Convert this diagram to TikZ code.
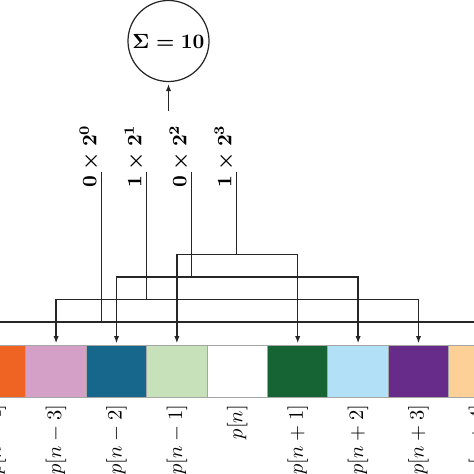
\documentclass[tikz,border=0pt]{standalone}
\usetikzlibrary{arrows.meta}
\definecolor{corange}{HTML}{F06423}
\definecolor{cpink}{HTML}{D4A0C8}
\definecolor{cteal}{HTML}{17678C}
\definecolor{clgreen}{HTML}{C7E2BB}
\definecolor{cdgreen}{HTML}{166434}
\definecolor{clblue}{HTML}{B2E0F6}
\definecolor{cpurple}{HTML}{672B8A}
\definecolor{clorange}{HTML}{FDD098}
\begin{document}
\begin{tikzpicture}[x=0.4875pt,y=-0.4875pt,
  cellbox/.style={draw=gray!70, line width=0.5pt, minimum width=29.45pt, minimum height=25.7pt, inner sep=0pt, outer sep=0pt},
  conn/.style={draw=black!85, line width=0.6pt},
  arr/.style={conn, shorten >=0.9pt, -{Latex[length=3.5pt,width=2.6pt]}},
  bitlabel/.style={rotate=90, anchor=south west, inner sep=1pt, font=\boldmath},
  cellname/.style={rotate=90, anchor=east}]
\useasboundingbox (0,0) rectangle (474,474);
\clip (0,0) rectangle (474,474);
% cells
\node[cellbox, fill=corange]  (cm4) at (-4.3,371.4) {};
\node[cellbox, fill=cpink]    (cm3) at (56.1,371.4) {};
\node[cellbox, fill=cteal]    (cm2) at (116.5,371.4) {};
\node[cellbox, fill=clgreen]  (cm1) at (176.9,371.4) {};
\node[cellbox, fill=white]    (c0)  at (237.3,371.4) {};
\node[cellbox, fill=cdgreen]  (cp1) at (297.7,371.4) {};
\node[cellbox, fill=clblue]   (cp2) at (358.1,371.4) {};
\node[cellbox, fill=cpurple]  (cp3) at (418.5,371.4) {};
\node[cellbox, fill=clorange] (cp4) at (478.9,371.4) {};
% cell labels
\node[cellname] (lm4) at (cm4.south) {$p[n-4]$};
\node[cellname] (lm3) at (cm3.south) {$p[n-3]$};
\node[cellname] (lm2) at (cm2.south) {$p[n-2]$};
\node[cellname] (lm1) at (cm1.south) {$p[n-1]$};
\node[cellname] (l0)  at (c0.south)  {$p[n]$};
\node[cellname] (lp1) at (cp1.south) {$p[n+1]$};
\node[cellname] (lp2) at (cp2.south) {$p[n+2]$};
\node[cellname] (lp3) at (cp3.south) {$p[n+3]$};
\node[cellname] (lp4) at (cp4.south) {$p[n+4]$};
% sum
\node[circle, draw=black!85, line width=0.6pt, minimum size=39.5pt, inner sep=0pt, font=\boldmath] (sum) at (168.5,41) {$\Sigma=10$};
\coordinate (s) at (168.5,111);
\draw[arr] (s) -- (sum.south);
% bit labels
\node[bitlabel] (b0) at (101.5,190) {$0\times2^0$};
\node[bitlabel] (b1) at (146.5,190) {$1\times2^1$};
\node[bitlabel] (b2) at (191.5,190) {$0\times2^2$};
\node[bitlabel] (b3) at (236.5,190) {$1\times2^3$};
\coordinate (t0) at (101.5,172);
\coordinate (t1) at (146.5,172);
\coordinate (t2) at (191.5,172);
\coordinate (t3) at (236.5,172);
\coordinate (j0) at (101.5,322);
\coordinate (j1) at (146.5,299.3);
\coordinate (j2) at (191.5,277);
\coordinate (j3) at (236.5,254.3);
\draw[conn] (t0) -- (j0);
\draw[conn] (t1) -- (j1);
\draw[conn] (t2) -- (j2);
\draw[conn] (t3) -- (j3);
\draw[arr] (j0) -| (cm4.north);
\draw[arr] (j0) -| (cp4.north);
\draw[arr] (j1) -| (cm3.north);
\draw[arr] (j1) -| (cp3.north);
\draw[arr] (j2) -| (cm2.north);
\draw[arr] (j2) -| (cp2.north);
\draw[arr] (j3) -| (cm1.north);
\draw[arr] (j3) -| (cp1.north);
\end{tikzpicture}
\end{document}
